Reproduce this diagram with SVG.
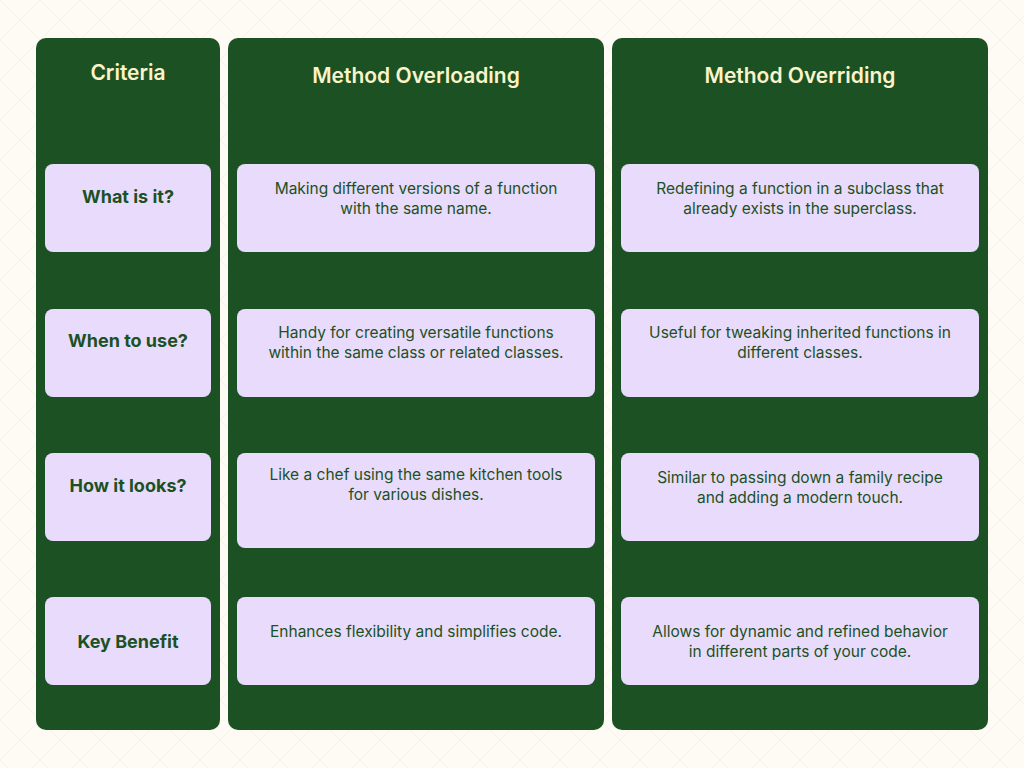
<svg xmlns="http://www.w3.org/2000/svg" width="1024" height="768" viewBox="0 0 1024 768">
<style>
.col{fill:#1B5123}
.cell{fill:#E9DBFB}
.h{font-family:Inter,"Noto Sans",sans-serif;font-weight:600;font-size:21px;fill:#FBF3C9;text-anchor:middle}
.k{font-family:Inter,"Noto Sans",sans-serif;font-weight:700;font-size:18px;fill:#1B5123;text-anchor:middle}
.t{font-family:Inter,"Noto Sans",sans-serif;font-size:15.5px;fill:#1B5123;text-anchor:middle}
</style>
<defs>
<pattern id="p" width="40" height="40" patternUnits="userSpaceOnUse">
<path d="M0 0L40 40M40 0L0 40" stroke="#EFEDE2" stroke-width="1" fill="none"/>
</pattern>
</defs>
<rect width="1024" height="768" fill="#FDFBF3"/>
<rect width="1024" height="768" fill="url(#p)" opacity="0.6"/>
<g id="col-criteria">
<rect class="col" x="36" y="38" width="184" height="692" rx="10"/>
<text class="h" x="128" y="80">Criteria</text>
<rect class="cell" x="45" y="164" width="166" height="88" rx="8"/><text class="k" x="128" y="203">What is it?</text>
<rect class="cell" x="45" y="309" width="166" height="88" rx="8"/><text class="k" x="128" y="347">When to use?</text>
<rect class="cell" x="45" y="453" width="166" height="88" rx="8"/><text class="k" x="128" y="492">How it looks?</text>
<rect class="cell" x="45" y="597" width="166" height="88" rx="8"/><text class="k" x="128" y="648">Key Benefit</text>
</g>
<g id="col-overloading">
<rect class="col" x="228" y="38" width="376" height="692" rx="10"/>
<text class="h" x="416" y="83">Method Overloading</text>
<rect class="cell" x="237" y="164" width="358" height="88" rx="8"/>
<text class="t" x="416" y="194">Making different versions of a function</text><text class="t" x="416" y="214">with the same name.</text>
<rect class="cell" x="237" y="309" width="358" height="88" rx="8"/>
<text class="t" x="416" y="338">Handy for creating versatile functions</text><text class="t" x="416" y="358">within the same class or related classes.</text>
<rect class="cell" x="237" y="453" width="358" height="95" rx="8"/>
<text class="t" x="416" y="480">Like a chef using the same kitchen tools</text><text class="t" x="416" y="500">for various dishes.</text>
<rect class="cell" x="237" y="597" width="358" height="88" rx="8"/>
<text class="t" x="416" y="637">Enhances flexibility and simplifies code.</text>
</g>
<g id="col-overriding">
<rect class="col" x="612" y="38" width="376" height="692" rx="10"/>
<text class="h" x="800" y="83">Method Overriding</text>
<rect class="cell" x="621" y="164" width="358" height="88" rx="8"/>
<text class="t" x="800" y="194">Redefining a function in a subclass that</text><text class="t" x="800" y="214">already exists in the superclass.</text>
<rect class="cell" x="621" y="309" width="358" height="88" rx="8"/>
<text class="t" x="800" y="338">Useful for tweaking inherited functions in</text><text class="t" x="800" y="358">different classes.</text>
<rect class="cell" x="621" y="453" width="358" height="88" rx="8"/>
<text class="t" x="800" y="483">Similar to passing down a family recipe</text><text class="t" x="800" y="503">and adding a modern touch.</text>
<rect class="cell" x="621" y="597" width="358" height="88" rx="8"/>
<text class="t" x="800" y="637">Allows for dynamic and refined behavior</text><text class="t" x="800" y="657">in different parts of your code.</text>
</g>
<g id="connectors"/>
</svg>
